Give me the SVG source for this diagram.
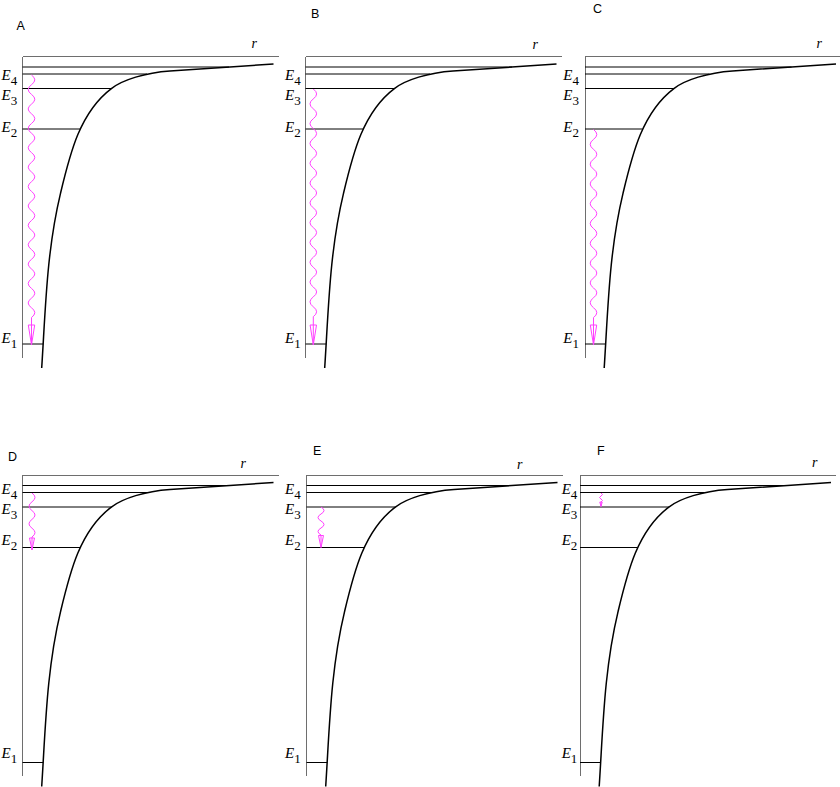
<svg xmlns="http://www.w3.org/2000/svg" xmlns:xlink="http://www.w3.org/1999/xlink" width="840" height="787" viewBox="0 0 840 787">
<style>
.axis{fill:none;stroke:#6e6e6e;stroke-width:1;shape-rendering:crispEdges}
.lvl{fill:none;stroke:#000;stroke-width:1}
.curve{fill:none;stroke:#000;stroke-width:1.5}
.wave{fill:none;stroke:#ff40ff;stroke-width:1}
.head{fill:none;stroke:#ff40ff;stroke-width:1}
.lab{font-family:"Liberation Sans",Arial,sans-serif;font-size:12.5px;fill:#000}
.E{font-family:"Liberation Serif","Times New Roman",serif;font-size:15px;font-style:italic;fill:#000}
.sub{font-style:normal;font-size:13px}
.r{font-family:"Liberation Serif","Times New Roman",serif;font-size:14px;font-style:italic;fill:#000}
</style>
<defs>
<g id="well">
<path class="axis" d="M22.5,56.5 H278.5 M22.5,56.5 V357.5"/>
<path class="lvl" d="M22.5,67 H229 M22.5,74 H147 M22.5,88.5 H111.6 M22.5,129 H80 M22.5,344 H43.3"/>
<path class="curve" d="M41.7,368 C45.6,308 46.6,251.3 60.5,193.3 C69.8,154.4 79.7,112.2 111.7,88.3 C122.9,79.9 145,72.7 170,71 L273.5,64"/>
</g>
</defs>

<g id="panel-A">
<use xlink:href="#well" href="#well"/>
<text class="lab" x="16.5" y="30">A</text>
<text class="r" x="251.5" y="48">r</text>
<text class="E" x="1.5" y="79.5">E<tspan class="sub" dy="5">4</tspan></text>
<text class="E" x="1.5" y="99.5">E<tspan class="sub" dy="5">3</tspan></text>
<text class="E" x="1.5" y="132">E<tspan class="sub" dy="5">2</tspan></text>
<text class="E" x="1.5" y="343">E<tspan class="sub" dy="5">1</tspan></text>
</g>

<g id="panel-B">
<use xlink:href="#well" href="#well" transform="translate(283,0)"/>
<text class="lab" x="311" y="18.3">B</text>
<text class="r" x="532.5" y="49">r</text>
<text class="E" x="285" y="79.5">E<tspan class="sub" dy="5">4</tspan></text>
<text class="E" x="285" y="99.5">E<tspan class="sub" dy="5">3</tspan></text>
<text class="E" x="285" y="132">E<tspan class="sub" dy="5">2</tspan></text>
<text class="E" x="285" y="343">E<tspan class="sub" dy="5">1</tspan></text>
</g>

<g id="panel-C">
<use xlink:href="#well" href="#well" transform="translate(562.5,0)"/>
<text class="lab" x="593" y="12.7">C</text>
<text class="r" x="816.5" y="48.3">r</text>
<text class="E" x="563.3" y="79.5">E<tspan class="sub" dy="5">4</tspan></text>
<text class="E" x="563.3" y="99.5">E<tspan class="sub" dy="5">3</tspan></text>
<text class="E" x="563.3" y="132">E<tspan class="sub" dy="5">2</tspan></text>
<text class="E" x="563.3" y="343">E<tspan class="sub" dy="5">1</tspan></text>
</g>

<g id="panel-D">
<use xlink:href="#well" href="#well" transform="translate(0,418.5)"/>
<text class="lab" x="8" y="460.7">D</text>
<text class="r" x="240.5" y="468.3">r</text>
<text class="E" x="1.5" y="493.5">E<tspan class="sub" dy="5">4</tspan></text>
<text class="E" x="1.5" y="514">E<tspan class="sub" dy="5">3</tspan></text>
<text class="E" x="1.5" y="545">E<tspan class="sub" dy="5">2</tspan></text>
<text class="E" x="1.5" y="758">E<tspan class="sub" dy="5">1</tspan></text>
</g>

<g id="panel-E">
<use xlink:href="#well" href="#well" transform="translate(284,418.5)"/>
<text class="lab" x="313" y="455">E</text>
<text class="r" x="517" y="469.3">r</text>
<text class="E" x="285" y="493.5">E<tspan class="sub" dy="5">4</tspan></text>
<text class="E" x="285" y="514">E<tspan class="sub" dy="5">3</tspan></text>
<text class="E" x="285" y="545">E<tspan class="sub" dy="5">2</tspan></text>
<text class="E" x="285" y="758">E<tspan class="sub" dy="5">1</tspan></text>
</g>

<g id="panel-F">
<use xlink:href="#well" href="#well" transform="translate(557.5,418.5)"/>
<text class="lab" x="597" y="455">F</text>
<text class="r" x="812" y="466.7">r</text>
<text class="E" x="561.7" y="493.5">E<tspan class="sub" dy="5">4</tspan></text>
<text class="E" x="561.7" y="514">E<tspan class="sub" dy="5">3</tspan></text>
<text class="E" x="561.7" y="545">E<tspan class="sub" dy="5">2</tspan></text>
<text class="E" x="561.7" y="758">E<tspan class="sub" dy="5">1</tspan></text>
</g>

<g id="connectors">
<g id="arrow-A">
<path class="wave" d="M31.5,75 q6.6,4.85 0,9.7 t0,9.7 t0,9.7 t0,9.7 t0,9.7 t0,9.7 t0,9.7 t0,9.7 t0,9.7 t0,9.7 t0,9.7 t0,9.7 t0,9.7 t0,9.7 t0,9.7 t0,9.7 t0,9.7 t0,9.7 t0,9.7 t0,9.7 t0,9.7 t0,9.7 t0,9.7 t0,9.7 t0,9.7 V345"/>
<polygon class="head" points="28.3,325 34.7,325 31.5,345"/>
</g>
<g id="arrow-B">
<path class="wave" d="M313.3,89 q6.6,4.95 0,9.9 t0,9.9 t0,9.9 t0,9.9 t0,9.9 t0,9.9 t0,9.9 t0,9.9 t0,9.9 t0,9.9 t0,9.9 t0,9.9 t0,9.9 t0,9.9 t0,9.9 t0,9.9 t0,9.9 t0,9.9 t0,9.9 t0,9.9 t0,9.9 t0,9.9 t0,9.9 V345"/>
<polygon class="head" points="310.1,325 316.5,325 313.3,345"/>
</g>
<g id="arrow-C">
<path class="wave" d="M593.5,129.5 q6.6,4.95 0,9.9 t0,9.9 t0,9.9 t0,9.9 t0,9.9 t0,9.9 t0,9.9 t0,9.9 t0,9.9 t0,9.9 t0,9.9 t0,9.9 t0,9.9 t0,9.9 t0,9.9 t0,9.9 t0,9.9 t0,9.9 t0,9.9 V345"/>
<polygon class="head" points="590.3,325 596.7,325 593.5,345"/>
</g>
<g id="arrow-D">
<path class="wave" d="M32,493 q6,4.4 0,8.8 t0,8.8 t0,8.8 t0,8.8 t0,8.8 V550"/>
<polygon class="head" points="29.5,538 34.5,538 32,550"/>
</g>
<g id="arrow-E">
<path class="wave" d="M321,507 q6,3.5 0,7 t0,7 t0,7 t0,7 V547.5"/>
<polygon class="head" points="318.5,535.5 323.5,535.5 321,547.5"/>
</g>
<g id="arrow-F">
<path class="wave" d="M601,493 q3,1.5 0,3 t0,3 t0,3 V506.5"/>
<polygon class="head" points="599.8,502 602.2,502 601,506.5"/>
</g>
</g>
</svg>
